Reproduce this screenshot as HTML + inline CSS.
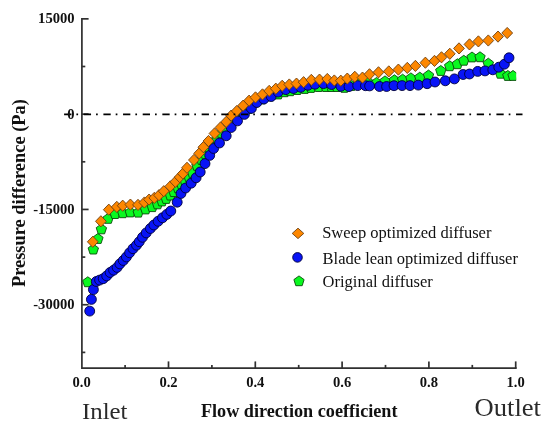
<!DOCTYPE html>
<html><head><meta charset="utf-8"><title>Pressure difference chart</title>
<style>
html,body{margin:0;padding:0;background:#fff;}
body{width:550px;height:432px;overflow:hidden;font-family:"Liberation Serif",serif;}
svg{display:block;will-change:transform;}
</style></head>
<body>
<svg width="550" height="432" viewBox="0 0 550 432">
<rect width="550" height="432" fill="#fff"/>
<g stroke="#303030" stroke-width="1.7" fill="none">
<path d="M81.9 18.0V369.0M81.1 368.2H516.7"/>
<path d="M81.9 18.86H88.6"/>
<path d="M81.9 114.15H88.6"/>
<path d="M81.9 209.44H88.6"/>
<path d="M81.9 304.74H88.6"/>
<path d="M81.9 66.50H85.3"/>
<path d="M81.9 161.80H85.3"/>
<path d="M81.9 257.09H85.3"/>
<path d="M81.9 352.39H85.3"/>
<path d="M125.10 368.2V364.90"/>
<path d="M168.50 368.2V361.40"/>
<path d="M211.90 368.2V364.90"/>
<path d="M255.30 368.2V361.40"/>
<path d="M298.70 368.2V364.90"/>
<path d="M342.10 368.2V361.40"/>
<path d="M385.50 368.2V364.90"/>
<path d="M428.90 368.2V361.40"/>
<path d="M472.30 368.2V364.90"/>
<path d="M515.70 368.2V361.40"/>
</g>
<defs><clipPath id="pa"><rect x="82" y="0" width="434.2" height="368"/></clipPath></defs><g clip-path="url(#pa)">
<g fill="#0af820" stroke="#0a4a0a" stroke-width="0.9">
<polygon points="87.8,276.8 93.0,280.6 91.0,286.7 84.6,286.7 82.6,280.6"/>
<polygon points="93.3,244.1 98.5,247.9 96.5,254.0 90.1,254.0 88.1,247.9"/>
<polygon points="97.9,233.5 103.1,237.3 101.1,243.4 94.7,243.4 92.7,237.3"/>
<polygon points="101.4,223.9 106.6,227.7 104.6,233.8 98.2,233.8 96.2,227.7"/>
<polygon points="108.1,213.4 113.3,217.2 111.3,223.3 104.9,223.3 102.9,217.2"/>
<polygon points="115.1,208.6 120.3,212.4 118.3,218.5 111.9,218.5 109.9,212.4"/>
<polygon points="122.8,207.8 128.0,211.6 126.0,217.7 119.6,217.7 117.6,211.6"/>
<polygon points="130.3,207.0 135.5,210.8 133.5,216.9 127.1,216.9 125.1,210.8"/>
<polygon points="138.2,207.2 143.4,211.0 141.4,217.1 135.0,217.1 133.0,211.0"/>
<polygon points="145.6,204.0 150.8,207.8 148.8,213.9 142.4,213.9 140.4,207.8"/>
<polygon points="152.3,201.7 157.5,205.5 155.5,211.6 149.1,211.6 147.1,205.5"/>
<polygon points="157.5,198.9 162.7,202.7 160.7,208.8 154.3,208.8 152.3,202.7"/>
<polygon points="162.0,196.0 167.2,199.8 165.2,205.9 158.8,205.9 156.8,199.8"/>
<polygon points="166.2,193.5 171.4,197.3 169.4,203.4 163.0,203.4 161.0,197.3"/>
<polygon points="170.4,190.1 175.6,193.9 173.6,200.0 167.2,200.0 165.2,193.9"/>
<polygon points="173.8,186.6 179.0,190.4 177.0,196.5 170.6,196.5 168.6,190.4"/>
<polygon points="178.0,182.8 183.2,186.6 181.2,192.7 174.8,192.7 172.8,186.6"/>
<polygon points="181.5,179.0 186.7,182.8 184.7,188.9 178.3,188.9 176.3,182.8"/>
<polygon points="185.0,175.5 190.2,179.3 188.2,185.4 181.8,185.4 179.8,179.3"/>
<polygon points="189.0,172.0 194.2,175.8 192.2,181.9 185.8,181.9 183.8,175.8"/>
<polygon points="192.5,167.5 197.7,171.3 195.7,177.4 189.3,177.4 187.3,171.3"/>
<polygon points="197.0,160.5 202.2,164.3 200.2,170.4 193.8,170.4 191.8,164.3"/>
<polygon points="201.5,154.5 206.7,158.3 204.7,164.4 198.3,164.4 196.3,158.3"/>
<polygon points="205.5,149.0 210.7,152.8 208.7,158.9 202.3,158.9 200.3,152.8"/>
<polygon points="209.5,143.5 214.7,147.3 212.7,153.4 206.3,153.4 204.3,147.3"/>
<polygon points="213.0,138.5 218.2,142.3 216.2,148.4 209.8,148.4 207.8,142.3"/>
<polygon points="217.0,133.5 222.2,137.3 220.2,143.4 213.8,143.4 211.8,137.3"/>
<polygon points="221.5,128.0 226.7,131.8 224.7,137.9 218.3,137.9 216.3,131.8"/>
<polygon points="226.0,123.0 231.2,126.8 229.2,132.9 222.8,132.9 220.8,126.8"/>
<polygon points="231.0,118.0 236.2,121.8 234.2,127.9 227.8,127.9 225.8,121.8"/>
<polygon points="236.5,113.0 241.7,116.8 239.7,122.9 233.3,122.9 231.3,116.8"/>
<polygon points="242.5,108.0 247.7,111.8 245.7,117.9 239.3,117.9 237.3,111.8"/>
<polygon points="248.5,103.5 253.7,107.3 251.7,113.4 245.3,113.4 243.3,107.3"/>
<polygon points="255.0,97.0 260.2,100.8 258.2,106.9 251.8,106.9 249.8,100.8"/>
<polygon points="262.0,94.0 267.2,97.8 265.2,103.9 258.8,103.9 256.8,97.8"/>
<polygon points="270.0,91.0 275.2,94.8 273.2,100.9 266.8,100.9 264.8,94.8"/>
<polygon points="278.1,89.0 283.3,92.8 281.3,98.9 274.9,98.9 272.9,92.8"/>
<polygon points="284.6,86.8 289.8,90.6 287.8,96.7 281.4,96.7 279.4,90.6"/>
<polygon points="290.2,85.8 295.4,89.6 293.4,95.7 287.0,95.7 285.0,89.6"/>
<polygon points="297.3,84.6 302.5,88.4 300.5,94.5 294.1,94.5 292.1,88.4"/>
<polygon points="304.8,83.5 310.0,87.3 308.0,93.4 301.6,93.4 299.6,87.3"/>
<polygon points="311.0,82.5 316.2,86.3 314.2,92.4 307.8,92.4 305.8,86.3"/>
<polygon points="318.6,81.6 323.8,85.4 321.8,91.5 315.4,91.5 313.4,85.4"/>
<polygon points="325.9,81.6 331.1,85.4 329.1,91.5 322.7,91.5 320.7,85.4"/>
<polygon points="331.4,81.6 336.6,85.4 334.6,91.5 328.2,91.5 326.2,85.4"/>
<polygon points="336.8,81.6 342.0,85.4 340.0,91.5 333.6,91.5 331.6,85.4"/>
<polygon points="344.3,82.4 349.5,86.2 347.5,92.3 341.1,92.3 339.1,86.2"/>
<polygon points="351.5,80.5 356.7,84.3 354.7,90.4 348.3,90.4 346.3,84.3"/>
<polygon points="359.0,77.5 364.2,81.3 362.2,87.4 355.8,87.4 353.8,81.3"/>
<polygon points="367.4,76.1 372.6,79.9 370.6,86.0 364.2,86.0 362.2,79.9"/>
<polygon points="376.5,77.5 381.7,81.3 379.7,87.4 373.3,87.4 371.3,81.3"/>
<polygon points="385.0,75.9 390.2,79.7 388.2,85.8 381.8,85.8 379.8,79.7"/>
<polygon points="394.4,74.8 399.6,78.6 397.6,84.7 391.2,84.7 389.2,78.6"/>
<polygon points="402.6,74.2 407.8,78.0 405.8,84.1 399.4,84.1 397.4,78.0"/>
<polygon points="410.9,72.9 416.1,76.7 414.1,82.8 407.7,82.8 405.7,76.7"/>
<polygon points="419.8,72.2 425.0,76.0 423.0,82.1 416.6,82.1 414.6,76.0"/>
<polygon points="428.5,70.1 433.7,73.9 431.7,80.0 425.3,80.0 423.3,73.9"/>
<polygon points="440.8,65.5 446.0,69.3 444.0,75.4 437.6,75.4 435.6,69.3"/>
<polygon points="449.7,60.8 454.9,64.6 452.9,70.7 446.5,70.7 444.5,64.6"/>
<polygon points="457.4,58.8 462.6,62.6 460.6,68.7 454.2,68.7 452.2,62.6"/>
<polygon points="463.8,55.3 469.0,59.1 467.0,65.2 460.6,65.2 458.6,59.1"/>
<polygon points="472.0,52.0 477.2,55.8 475.2,61.9 468.8,61.9 466.8,55.8"/>
<polygon points="480.0,51.8 485.2,55.6 483.2,61.7 476.8,61.7 474.8,55.6"/>
<polygon points="488.3,58.2 493.5,62.0 491.5,68.1 485.1,68.1 483.1,62.0"/>
<polygon points="500.5,68.3 505.7,72.1 503.7,78.2 497.3,78.2 495.3,72.1"/>
<polygon points="507.8,70.5 513.0,74.3 511.0,80.4 504.6,80.4 502.6,74.3"/>
<polygon points="513.0,70.5 518.2,74.3 516.2,80.4 509.8,80.4 507.8,74.3"/>
</g>
<g fill="#0814f6" stroke="#00003a" stroke-width="0.9">
<circle cx="89.7" cy="311.1" r="4.95"/>
<circle cx="91.4" cy="299.4" r="4.95"/>
<circle cx="93.4" cy="289.6" r="4.95"/>
<circle cx="96.3" cy="281.5" r="4.95"/>
<circle cx="99.6" cy="280.1" r="4.95"/>
<circle cx="103.2" cy="278.7" r="4.95"/>
<circle cx="106.7" cy="275.9" r="4.95"/>
<circle cx="110.1" cy="272.5" r="4.95"/>
<circle cx="113.6" cy="270.2" r="4.95"/>
<circle cx="117.1" cy="267.4" r="4.95"/>
<circle cx="119.9" cy="263.9" r="4.95"/>
<circle cx="123.3" cy="260.5" r="4.95"/>
<circle cx="126.4" cy="257.0" r="4.95"/>
<circle cx="129.6" cy="252.8" r="4.95"/>
<circle cx="133.0" cy="248.7" r="4.95"/>
<circle cx="136.5" cy="245.2" r="4.95"/>
<circle cx="139.3" cy="241.7" r="4.95"/>
<circle cx="142.5" cy="237.3" r="4.95"/>
<circle cx="146.2" cy="232.9" r="4.95"/>
<circle cx="150.4" cy="228.5" r="4.95"/>
<circle cx="153.9" cy="225.0" r="4.95"/>
<circle cx="158.1" cy="221.3" r="4.95"/>
<circle cx="162.5" cy="217.8" r="4.95"/>
<circle cx="166.8" cy="214.4" r="4.95"/>
<circle cx="170.8" cy="211.0" r="4.95"/>
<circle cx="177.2" cy="202.2" r="4.95"/>
<circle cx="181.0" cy="193.5" r="4.95"/>
<circle cx="185.6" cy="188.0" r="4.95"/>
<circle cx="191.2" cy="183.2" r="4.95"/>
<circle cx="196.1" cy="177.8" r="4.95"/>
<circle cx="200.2" cy="172.0" r="4.95"/>
<circle cx="205.0" cy="163.6" r="4.95"/>
<circle cx="209.7" cy="155.4" r="4.95"/>
<circle cx="213.6" cy="148.5" r="4.95"/>
<circle cx="219.5" cy="143.0" r="4.95"/>
<circle cx="226.2" cy="135.8" r="4.95"/>
<circle cx="231.2" cy="127.5" r="4.95"/>
<circle cx="237.5" cy="120.9" r="4.95"/>
<circle cx="244.4" cy="114.4" r="4.95"/>
<circle cx="251.4" cy="108.4" r="4.95"/>
<circle cx="256.9" cy="102.5" r="4.95"/>
<circle cx="263.9" cy="99.0" r="4.95"/>
<circle cx="271.2" cy="96.5" r="4.95"/>
<circle cx="278.1" cy="92.1" r="4.95"/>
<circle cx="285.8" cy="89.6" r="4.95"/>
<circle cx="293.5" cy="88.5" r="4.95"/>
<circle cx="300.8" cy="87.3" r="4.95"/>
<circle cx="308.0" cy="85.3" r="4.95"/>
<circle cx="315.0" cy="84.2" r="4.95"/>
<circle cx="323.5" cy="83.6" r="4.95"/>
<circle cx="331.5" cy="84.5" r="4.95"/>
<circle cx="340.9" cy="86.3" r="4.95"/>
<circle cx="349.0" cy="86.6" r="4.95"/>
<circle cx="357.7" cy="85.6" r="4.95"/>
<circle cx="365.5" cy="85.7" r="4.95"/>
<circle cx="369.6" cy="85.9" r="4.95"/>
<circle cx="379.5" cy="86.5" r="4.95"/>
<circle cx="386.6" cy="86.5" r="4.95"/>
<circle cx="394.0" cy="85.7" r="4.95"/>
<circle cx="402.1" cy="85.6" r="4.95"/>
<circle cx="410.0" cy="85.6" r="4.95"/>
<circle cx="418.3" cy="85.1" r="4.95"/>
<circle cx="427.1" cy="83.7" r="4.95"/>
<circle cx="435.0" cy="82.0" r="4.95"/>
<circle cx="445.3" cy="80.8" r="4.95"/>
<circle cx="454.4" cy="78.9" r="4.95"/>
<circle cx="463.1" cy="74.5" r="4.95"/>
<circle cx="469.5" cy="74.0" r="4.95"/>
<circle cx="477.7" cy="71.4" r="4.95"/>
<circle cx="485.0" cy="70.9" r="4.95"/>
<circle cx="492.8" cy="69.8" r="4.95"/>
<circle cx="498.8" cy="67.2" r="4.95"/>
<circle cx="504.4" cy="64.2" r="4.95"/>
<circle cx="509.0" cy="57.8" r="4.95"/>
</g>
<g fill="#fd8700" stroke="#6e4010" stroke-width="0.9">
<path d="M92.8 236.2L98.2 241.8L92.8 247.4L87.4 241.8Z"/>
<path d="M100.9 215.7L106.3 221.3L100.9 226.9L95.5 221.3Z"/>
<path d="M108.8 204.1L114.2 209.7L108.8 215.3L103.4 209.7Z"/>
<path d="M116.8 201.3L122.2 206.9L116.8 212.5L111.4 206.9Z"/>
<path d="M122.7 200.1L128.1 205.7L122.7 211.3L117.3 205.7Z"/>
<path d="M130.4 199.0L135.8 204.6L130.4 210.2L125.0 204.6Z"/>
<path d="M138.0 199.3L143.4 204.9L138.0 210.5L132.6 204.9Z"/>
<path d="M144.4 196.9L149.8 202.5L144.4 208.1L139.0 202.5Z"/>
<path d="M149.1 194.0L154.5 199.6L149.1 205.2L143.7 199.6Z"/>
<path d="M154.3 192.3L159.7 197.9L154.3 203.5L148.9 197.9Z"/>
<path d="M159.0 189.6L164.4 195.2L159.0 200.8L153.6 195.2Z"/>
<path d="M163.8 185.6L169.2 191.2L163.8 196.8L158.4 191.2Z"/>
<path d="M170.3 180.8L175.7 186.4L170.3 192.0L164.9 186.4Z"/>
<path d="M175.4 176.2L180.8 181.8L175.4 187.4L170.0 181.8Z"/>
<path d="M179.7 171.5L185.1 177.1L179.7 182.7L174.3 177.1Z"/>
<path d="M182.9 168.0L188.3 173.6L182.9 179.2L177.5 173.6Z"/>
<path d="M187.0 162.2L192.4 167.8L187.0 173.4L181.6 167.8Z"/>
<path d="M193.9 154.4L199.3 160.0L193.9 165.6L188.5 160.0Z"/>
<path d="M199.2 147.8L204.6 153.4L199.2 159.0L193.8 153.4Z"/>
<path d="M203.4 141.6L208.8 147.2L203.4 152.8L198.0 147.2Z"/>
<path d="M208.5 135.4L213.9 141.0L208.5 146.6L203.1 141.0Z"/>
<path d="M214.5 127.9L219.9 133.5L214.5 139.1L209.1 133.5Z"/>
<path d="M220.5 121.9L225.9 127.5L220.5 133.1L215.1 127.5Z"/>
<path d="M226.2 116.3L231.6 121.9L226.2 127.5L220.8 121.9Z"/>
<path d="M231.2 110.0L236.6 115.6L231.2 121.2L225.8 115.6Z"/>
<path d="M236.8 105.4L242.2 111.0L236.8 116.6L231.4 111.0Z"/>
<path d="M243.1 100.1L248.5 105.7L243.1 111.3L237.7 105.7Z"/>
<path d="M249.1 95.1L254.5 100.7L249.1 106.3L243.7 100.7Z"/>
<path d="M255.5 91.8L260.9 97.4L255.5 103.0L250.1 97.4Z"/>
<path d="M262.5 88.8L267.9 94.4L262.5 100.0L257.1 94.4Z"/>
<path d="M269.2 85.3L274.6 90.9L269.2 96.5L263.8 90.9Z"/>
<path d="M275.8 83.1L281.2 88.7L275.8 94.3L270.4 88.7Z"/>
<path d="M282.2 80.2L287.6 85.8L282.2 91.4L276.8 85.8Z"/>
<path d="M289.3 78.9L294.7 84.5L289.3 90.1L283.9 84.5Z"/>
<path d="M296.5 78.0L301.9 83.6L296.5 89.2L291.1 83.6Z"/>
<path d="M303.6 76.6L309.0 82.2L303.6 87.8L298.2 82.2Z"/>
<path d="M311.3 74.3L316.7 79.9L311.3 85.5L305.9 79.9Z"/>
<path d="M319.5 74.0L324.9 79.6L319.5 85.2L314.1 79.6Z"/>
<path d="M327.3 73.4L332.7 79.0L327.3 84.6L321.9 79.0Z"/>
<path d="M334.3 74.9L339.7 80.5L334.3 86.1L328.9 80.5Z"/>
<path d="M340.8 75.1L346.2 80.7L340.8 86.3L335.4 80.7Z"/>
<path d="M347.3 73.0L352.7 78.6L347.3 84.2L341.9 78.6Z"/>
<path d="M354.8 71.2L360.2 76.8L354.8 82.4L349.4 76.8Z"/>
<path d="M362.5 72.0L367.9 77.6L362.5 83.2L357.1 77.6Z"/>
<path d="M369.5 68.7L374.9 74.3L369.5 79.9L364.1 74.3Z"/>
<path d="M378.5 66.7L383.9 72.3L378.5 77.9L373.1 72.3Z"/>
<path d="M388.8 65.8L394.2 71.4L388.8 77.0L383.4 71.4Z"/>
<path d="M398.4 64.0L403.8 69.6L398.4 75.2L393.0 69.6Z"/>
<path d="M407.3 62.3L412.7 67.9L407.3 73.5L401.9 67.9Z"/>
<path d="M415.4 60.3L420.8 65.9L415.4 71.5L410.0 65.9Z"/>
<path d="M425.4 57.1L430.8 62.7L425.4 68.3L420.0 62.7Z"/>
<path d="M434.5 55.3L439.9 60.9L434.5 66.5L429.1 60.9Z"/>
<path d="M441.5 51.7L446.9 57.3L441.5 62.9L436.1 57.3Z"/>
<path d="M449.8 48.2L455.2 53.8L449.8 59.4L444.4 53.8Z"/>
<path d="M459.0 42.8L464.4 48.4L459.0 54.0L453.6 48.4Z"/>
<path d="M469.5 38.8L474.9 44.4L469.5 50.0L464.1 44.4Z"/>
<path d="M478.4 35.8L483.8 41.4L478.4 47.0L473.0 41.4Z"/>
<path d="M488.3 34.9L493.7 40.5L488.3 46.1L482.9 40.5Z"/>
<path d="M498.0 31.0L503.4 36.6L498.0 42.2L492.6 36.6Z"/>
<path d="M507.2 27.4L512.6 33.0L507.2 38.6L501.8 33.0Z"/>
</g>
</g>
<path d="M64.1 114.4H522.5" stroke="#000" stroke-width="1.9" stroke-dasharray="7.3 5.0 1.7 5.65" fill="none"/>
<g font-family="Liberation Serif" font-weight="bold" font-size="14.6" fill="#111" text-anchor="end">
<text x="74.6" y="23.36">15000</text>
<text x="74.6" y="118.65">0</text>
<text x="74.6" y="213.94">-15000</text>
<text x="74.6" y="309.24">-30000</text>
</g>
<g font-family="Liberation Serif" font-weight="bold" font-size="14.6" fill="#111" text-anchor="middle">
<text x="81.70" y="387.4">0.0</text>
<text x="168.50" y="387.4">0.2</text>
<text x="255.30" y="387.4">0.4</text>
<text x="342.10" y="387.4">0.6</text>
<text x="428.90" y="387.4">0.8</text>
<text x="515.70" y="387.4">1.0</text>
</g>
<text font-family="Liberation Serif" font-weight="bold" font-size="18.2" fill="#111" x="299.2" y="416.6" text-anchor="middle">Flow direction coefficient</text>
<text font-family="Liberation Serif" font-weight="bold" font-size="18.4" fill="#111" transform="translate(25.0 193.1) rotate(-90)" text-anchor="middle">Pressure difference (Pa)</text>
<text font-family="Liberation Serif" font-size="24" fill="#2a2a2a" x="82" y="418.6" textLength="45.5" lengthAdjust="spacingAndGlyphs">Inlet</text>
<text font-family="Liberation Serif" font-size="24.5" fill="#2a2a2a" x="474.5" y="415.5" textLength="66.5" lengthAdjust="spacingAndGlyphs">Outlet</text>
<g fill="#fd8700" stroke="#6e4010" stroke-width="0.9"><path d="M298.0 228.2L303.8 233.4L298.0 238.6L292.2 233.4Z"/></g>
<g fill="#0814f6" stroke="#00003a" stroke-width="0.9"><circle cx="297.5" cy="257.4" r="4.8"/></g>
<g fill="#0af820" stroke="#0a4a0a" stroke-width="0.9"><polygon points="299.0,275.9 304.1,279.6 302.2,285.7 295.8,285.7 293.9,279.6"/></g>
<g font-family="Liberation Serif" font-size="16.5" fill="#111">
<text x="322.2" y="238.3">Sweep optimized diffuser</text>
<text x="322.6" y="263.5">Blade lean optimized diffuser</text>
<text x="322.6" y="286.7">Original diffuser</text>
</g>
</svg>
</body></html>
